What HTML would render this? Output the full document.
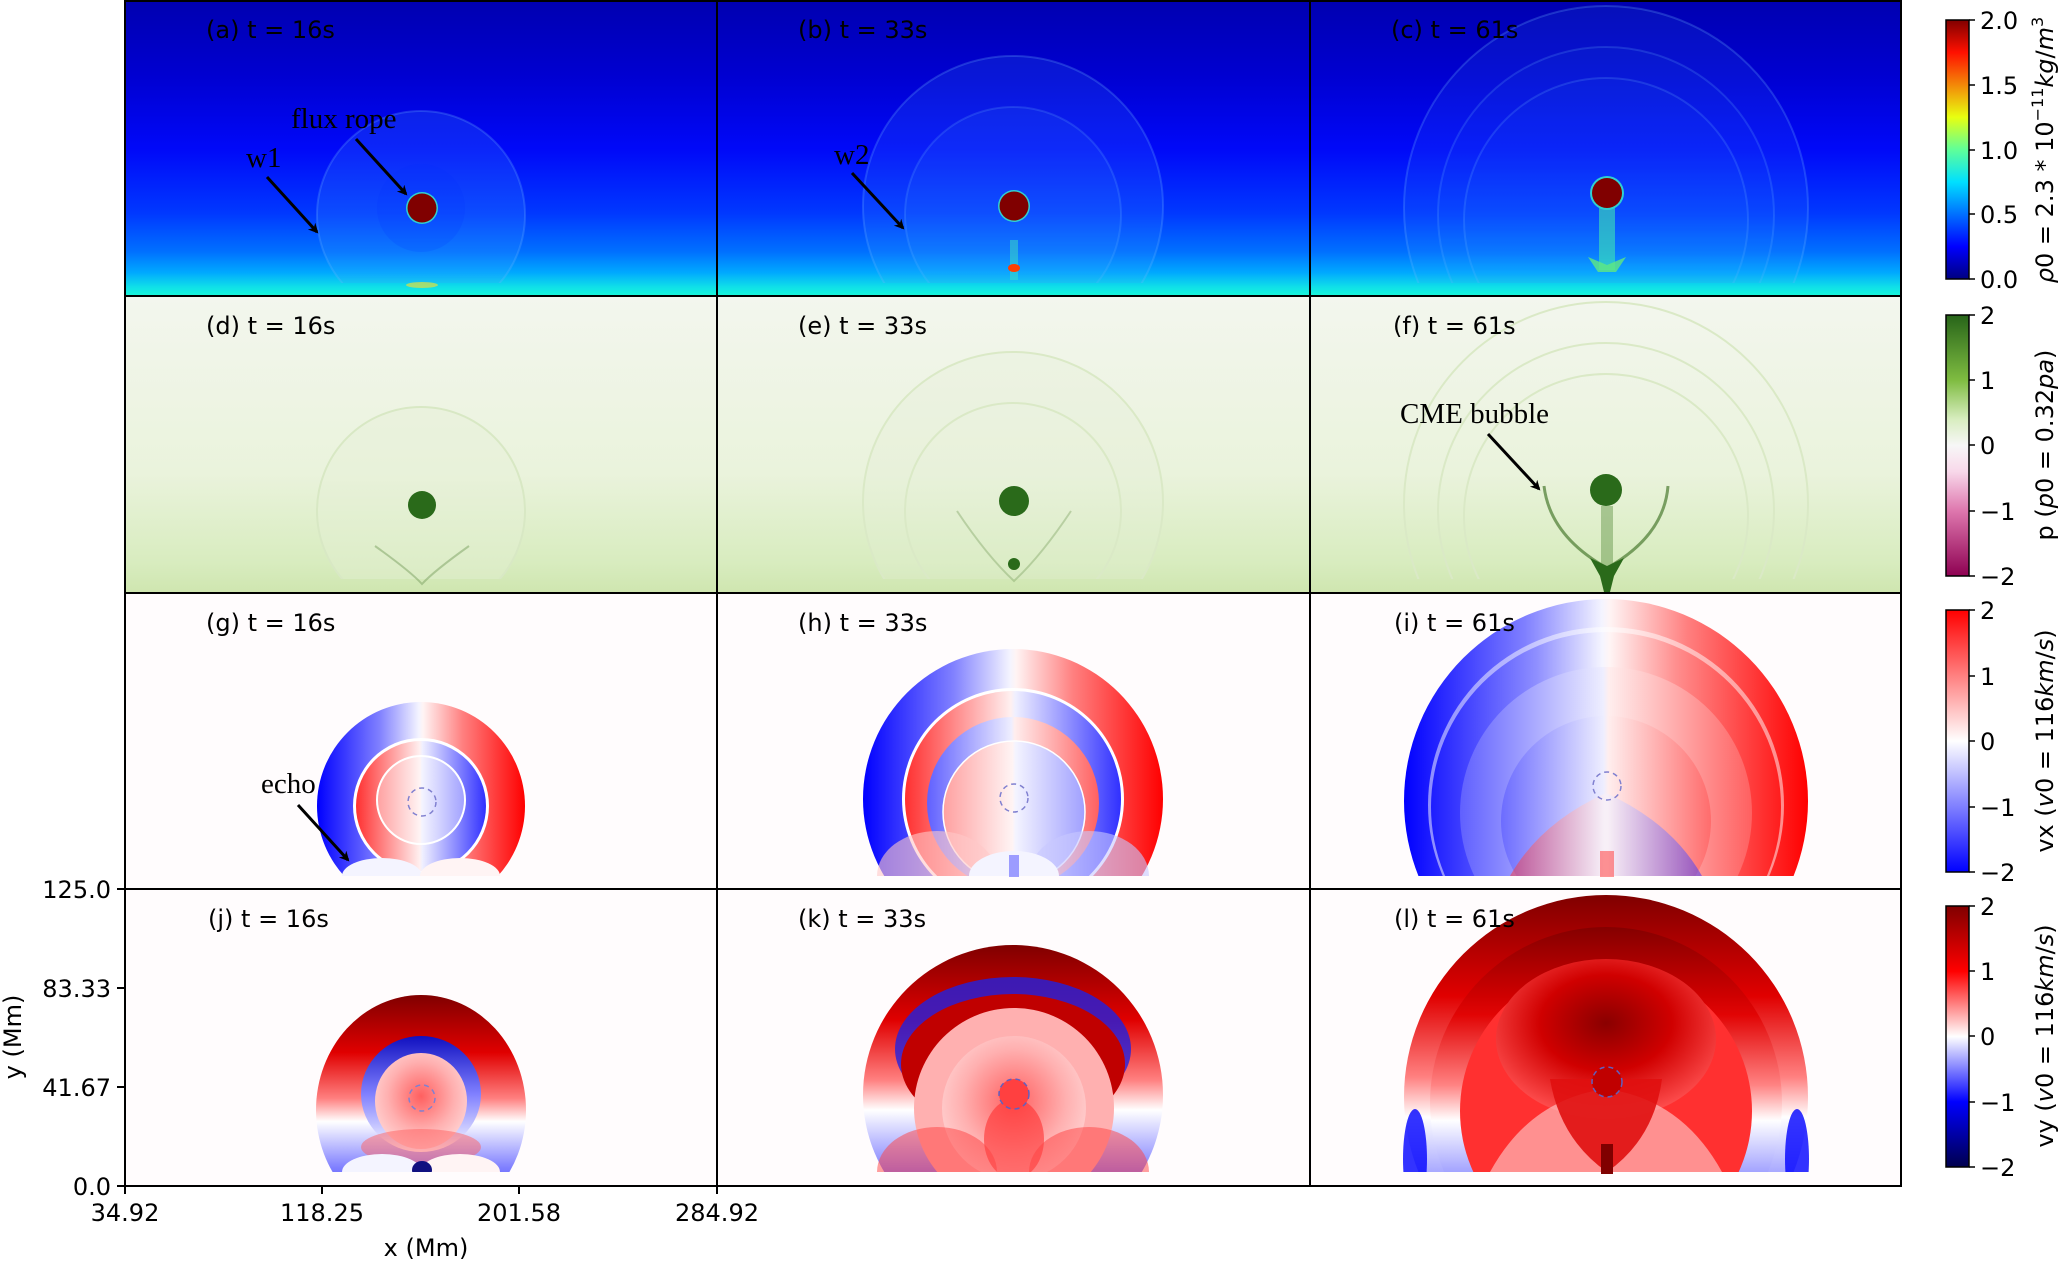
<!DOCTYPE html>
<html><head><meta charset="utf-8"><style>html,body{margin:0;padding:0;background:#fff}svg{display:block}</style></head>
<body>
<svg width="2066" height="1261" viewBox="0 0 2066 1261" xmlns="http://www.w3.org/2000/svg" font-family="DejaVu Sans, Liberation Sans, sans-serif">
<defs>
<linearGradient id="bgR" x1="0" y1="0" x2="0" y2="1">
<stop offset="0" stop-color="#0000b0"/><stop offset="0.25" stop-color="#0000d0"/><stop offset="0.5" stop-color="#0008f8"/><stop offset="0.72" stop-color="#0038ff"/><stop offset="0.85" stop-color="#0070ff"/><stop offset="0.92" stop-color="#00a8ff"/><stop offset="0.97" stop-color="#10e0e8"/><stop offset="1" stop-color="#18f8d8"/></linearGradient>
<linearGradient id="bgP" x1="0" y1="0" x2="0" y2="1">
<stop offset="0" stop-color="#f3f6ee"/><stop offset="0.6" stop-color="#eaf3dc"/><stop offset="0.9" stop-color="#d8ecbf"/><stop offset="1" stop-color="#cfe6b0"/></linearGradient>
<linearGradient id="hx" x1="0" y1="0" x2="1" y2="0">
<stop offset="0" stop-color="#0000ff"/><stop offset="0.3" stop-color="#8080ff"/><stop offset="0.49" stop-color="#f4f4ff"/><stop offset="0.51" stop-color="#fff4f4"/><stop offset="0.7" stop-color="#ff8080"/><stop offset="1" stop-color="#ff0000"/></linearGradient>
<linearGradient id="hxr" x1="0" y1="0" x2="1" y2="0">
<stop offset="0" stop-color="#ff3030"/><stop offset="0.49" stop-color="#fff0f0"/><stop offset="0.51" stop-color="#f0f0ff"/><stop offset="1" stop-color="#3030ff"/></linearGradient>
<linearGradient id="hxl" x1="0" y1="0" x2="1" y2="0">
<stop offset="0" stop-color="#6060ff"/><stop offset="0.49" stop-color="#eeeeff"/><stop offset="0.51" stop-color="#ffeeee"/><stop offset="1" stop-color="#ff6060"/></linearGradient>
<linearGradient id="hxlr" x1="0" y1="0" x2="1" y2="0">
<stop offset="0" stop-color="#ffa0a0"/><stop offset="0.49" stop-color="#fff4f4"/><stop offset="0.51" stop-color="#f4f4ff"/><stop offset="1" stop-color="#a0a0ff"/></linearGradient>
<linearGradient id="vy" x1="0" y1="0" x2="0" y2="1">
<stop offset="0" stop-color="#800000"/><stop offset="0.25" stop-color="#e00000"/><stop offset="0.45" stop-color="#ff8080"/><stop offset="0.55" stop-color="#ffffff"/><stop offset="0.75" stop-color="#8080ff"/><stop offset="1" stop-color="#2020ff"/></linearGradient>
<linearGradient id="vyb" x1="0" y1="0" x2="0" y2="1">
<stop offset="0" stop-color="#1010c0"/><stop offset="0.5" stop-color="#8080ff"/><stop offset="1" stop-color="#ffffff"/></linearGradient>
<radialGradient id="vyc" cx="0.5" cy="0.45" r="0.6">
<stop offset="0" stop-color="#ff6060"/><stop offset="0.6" stop-color="#ffb0b0"/><stop offset="1" stop-color="#ffd8d8"/></radialGradient>
<radialGradient id="vyd" cx="0.5" cy="0.4" r="0.6">
<stop offset="0" stop-color="#8a0000"/><stop offset="0.5" stop-color="#d00000"/><stop offset="1" stop-color="#ff5050"/></radialGradient>
<linearGradient id="cjet" x1="0" y1="1" x2="0" y2="0">
<stop offset="0" stop-color="#000080"/><stop offset="0.125" stop-color="#0000ff"/><stop offset="0.375" stop-color="#00e0ff"/><stop offset="0.5" stop-color="#60ff98"/><stop offset="0.625" stop-color="#e8ff10"/><stop offset="0.875" stop-color="#ff1000"/><stop offset="1" stop-color="#800000"/></linearGradient>
<linearGradient id="cpiy" x1="0" y1="0" x2="0" y2="1">
<stop offset="0" stop-color="#276419"/><stop offset="0.25" stop-color="#7fbc41"/><stop offset="0.4" stop-color="#d8edc0"/><stop offset="0.5" stop-color="#f7f7f7"/><stop offset="0.6" stop-color="#f8d8ea"/><stop offset="0.75" stop-color="#de77ae"/><stop offset="1" stop-color="#8e0152"/></linearGradient>
<linearGradient id="cbwr" x1="0" y1="0" x2="0" y2="1">
<stop offset="0" stop-color="#ff0000"/><stop offset="0.5" stop-color="#ffffff"/><stop offset="1" stop-color="#0000ff"/></linearGradient>
<linearGradient id="cseis" x1="0" y1="0" x2="0" y2="1">
<stop offset="0" stop-color="#800000"/><stop offset="0.25" stop-color="#ff0000"/><stop offset="0.5" stop-color="#ffffff"/><stop offset="0.75" stop-color="#0000ff"/><stop offset="1" stop-color="#00004d"/></linearGradient>
<clipPath id="pc"><rect x="0" y="0" width="592" height="296"/></clipPath>
<clipPath id="dc"><rect x="0" y="0" width="592" height="283"/></clipPath>
<marker id="ah" markerWidth="10" markerHeight="10" refX="8" refY="5" orient="auto" markerUnits="userSpaceOnUse" viewBox="0 0 10 10"><path d="M0,0 L10,5 L0,10 L3,5 z" fill="#000"/></marker>
</defs>

<!-- ROW 1: density -->
<g transform="translate(125,0)" clip-path="url(#pc)">
<rect width="592" height="296" fill="url(#bgR)"/>
<g clip-path="url(#dc)"><circle cx="296" cy="215" r="104" fill="#3a9aff" fill-opacity="0.2" stroke="#70b8ff" stroke-opacity="0.25" stroke-width="2"/>
<circle cx="296" cy="208" r="44" fill="#0030ff" fill-opacity="0.15"/></g>
<ellipse cx="297" cy="285" rx="16" ry="3" fill="#e0e040" opacity="0.7"/>
<circle cx="297" cy="208" r="16" fill="#30d0d0"/><circle cx="297" cy="208" r="14.5" fill="#800000"/>
</g>
<g transform="translate(717,0)" clip-path="url(#pc)">
<rect width="592" height="296" fill="url(#bgR)"/>
<g clip-path="url(#dc)"><circle cx="296" cy="206" r="150" fill="#3a9aff" fill-opacity="0.15" stroke="#70b8ff" stroke-opacity="0.25" stroke-width="2"/>
<circle cx="296" cy="215" r="108" fill="#3a9aff" fill-opacity="0.1" stroke="#70b8ff" stroke-opacity="0.2" stroke-width="2"/></g>
<rect x="293" y="240" width="8" height="40" fill="#40e0c0" opacity="0.5"/>
<ellipse cx="297" cy="268" rx="6" ry="4" fill="#ff4000"/>
<circle cx="297" cy="206" r="16" fill="#30d0d0"/><circle cx="297" cy="206" r="14.5" fill="#800000"/>
</g>
<g transform="translate(1310,0)" clip-path="url(#pc)">
<rect width="592" height="296" fill="url(#bgR)"/>
<g clip-path="url(#dc)"><circle cx="296" cy="208" r="202" fill="#3a9aff" fill-opacity="0.1" stroke="#70b8ff" stroke-opacity="0.25" stroke-width="2"/>
<circle cx="296" cy="215" r="168" fill="#3a9aff" fill-opacity="0.06" stroke="#70b8ff" stroke-opacity="0.2" stroke-width="2"/>
<circle cx="296" cy="220" r="142" fill="#3a9aff" fill-opacity="0.06" stroke="#70b8ff" stroke-opacity="0.2" stroke-width="2"/></g>
<rect x="289" y="205" width="16" height="65" fill="#40e8b0" opacity="0.6"/>
<path d="M278,257 L297,265 L316,257 L306,272 L288,272 Z" fill="#60e880" opacity="0.8"/>
<circle cx="297" cy="193" r="17" fill="#30d0d0"/><circle cx="297" cy="193" r="15" fill="#800000"/>
</g>

<!-- ROW 2: pressure -->
<g transform="translate(125,296)" clip-path="url(#pc)">
<rect width="592" height="296" fill="url(#bgP)"/>
<g clip-path="url(#dc)"><circle cx="296" cy="215" r="104" fill="#e6f0d6" fill-opacity="0.4" stroke="#d8e8c4" stroke-width="2"/></g>
<path d="M250,250 Q285,275 297,288 Q309,275 344,250" fill="none" stroke="#7aa060" stroke-width="2" opacity="0.5"/>
<circle cx="297" cy="209" r="14" fill="#2a6a1a"/>
</g>
<g transform="translate(717,296)" clip-path="url(#pc)">
<rect width="592" height="296" fill="url(#bgP)"/>
<g clip-path="url(#dc)"><circle cx="296" cy="206" r="150" fill="#e6f0d6" fill-opacity="0.3" stroke="#dae9c6" stroke-width="2"/>
<circle cx="296" cy="215" r="108" fill="none" stroke="#dae9c6" stroke-width="2"/></g>
<path d="M240,215 Q270,260 297,285 Q324,260 354,215" fill="none" stroke="#7aa060" stroke-width="2" opacity="0.4"/>
<circle cx="297" cy="268" r="6" fill="#2a6a1a"/>
<circle cx="297" cy="205" r="15" fill="#2a6a1a"/>
</g>
<g transform="translate(1310,296)" clip-path="url(#pc)">
<rect width="592" height="296" fill="url(#bgP)"/>
<g clip-path="url(#dc)"><circle cx="296" cy="208" r="202" fill="none" stroke="#dae9c6" stroke-width="2"/>
<circle cx="296" cy="215" r="168" fill="none" stroke="#dae9c6" stroke-width="2"/>
<circle cx="296" cy="220" r="142" fill="none" stroke="#dae9c6" stroke-width="2"/></g>
<path d="M234,190 Q240,240 297,272 Q354,240 358,190" fill="none" stroke="#4a7a30" stroke-width="3" opacity="0.7"/>
<rect x="291" y="210" width="12" height="60" fill="#6a9a50" opacity="0.5"/>
<path d="M280,262 L297,270 L314,262 L304,280 L300,296 L294,296 L290,280 Z" fill="#2a6a1a"/>
<circle cx="296" cy="194" r="16" fill="#2a6a1a"/>
</g>

<!-- ROW 3: vx -->
<g transform="translate(125,593)" clip-path="url(#pc)">
<rect width="592" height="296" fill="#fffcfd"/>
<g clip-path="url(#dc)">
<circle cx="296" cy="213" r="104" fill="url(#hx)"/>
<circle cx="296" cy="213" r="68" fill="#fff"/>
<circle cx="296" cy="213" r="65" fill="url(#hxr)"/>
<circle cx="296" cy="207" r="44" fill="url(#hxlr)" stroke="#fff" stroke-width="2"/>
<ellipse cx="257" cy="283" rx="40" ry="18" fill="#f4f4ff"/>
<ellipse cx="335" cy="283" rx="40" ry="18" fill="#fff4f4"/>
</g>
<circle cx="297" cy="209" r="14" fill="none" stroke="#8080d0" stroke-width="1.5" stroke-dasharray="5 4"/>
</g>
<g transform="translate(717,593)" clip-path="url(#pc)">
<rect width="592" height="296" fill="#fffcfd"/>
<g clip-path="url(#dc)">
<circle cx="296" cy="206" r="150" fill="url(#hx)"/>
<circle cx="296" cy="206" r="111" fill="#fff"/>
<circle cx="296" cy="206" r="108" fill="url(#hxr)"/>
<circle cx="296" cy="210" r="86" fill="url(#hxl)"/>
<circle cx="297" cy="219" r="71" fill="url(#hxlr)" stroke="#fff" stroke-width="1.5"/>
<ellipse cx="220" cy="283" rx="60" ry="45" fill="#ffc8c8" opacity="0.6"/>
<ellipse cx="372" cy="283" rx="60" ry="45" fill="#c8c8ff" opacity="0.6"/>
<ellipse cx="297" cy="283" rx="45" ry="25" fill="#f4f4ff"/>
</g>
<circle cx="297" cy="205" r="14" fill="none" stroke="#8080d0" stroke-width="1.5" stroke-dasharray="5 4"/>
<rect x="292" y="262" width="10" height="22" fill="#6060ff" opacity="0.6"/>
</g>
<g transform="translate(1310,593)" clip-path="url(#pc)">
<rect width="592" height="296" fill="#fffcfd"/>
<g clip-path="url(#dc)">
<circle cx="296" cy="208" r="202" fill="url(#hx)"/>
<circle cx="296" cy="212" r="178" fill="#fff" opacity="0.5"/>
<circle cx="296" cy="214" r="175" fill="url(#hx)" opacity="0.8"/>
<circle cx="296" cy="220" r="146" fill="url(#hxl)"/>
<circle cx="296" cy="228" r="105" fill="url(#hxl)" opacity="0.7"/>
<path d="M200,283 Q230,230 296,200 Q362,230 392,283 Z" fill="url(#hxr)" opacity="0.5"/>
</g>
<circle cx="297" cy="193" r="14" fill="none" stroke="#8080d0" stroke-width="1.5" stroke-dasharray="5 4"/>
<rect x="290" y="258" width="14" height="26" fill="#ff5050" opacity="0.6"/>
</g>

<!-- ROW 4: vy -->
<g transform="translate(125,889)" clip-path="url(#pc)">
<rect width="592" height="296" fill="#fffcfd"/>
<g clip-path="url(#dc)">
<ellipse cx="296" cy="221" rx="105" ry="115" fill="url(#vy)"/>
<ellipse cx="296" cy="205" rx="60" ry="58" fill="url(#vyb)"/>
<ellipse cx="296" cy="212" rx="46" ry="48" fill="url(#vyc)"/>
<ellipse cx="296" cy="258" rx="60" ry="18" fill="#ff6060" opacity="0.5"/>
<ellipse cx="257" cy="283" rx="40" ry="18" fill="#f4f4ff"/>
<ellipse cx="335" cy="283" rx="40" ry="18" fill="#fff4f4"/>
<ellipse cx="297" cy="281" rx="10" ry="9" fill="#101080"/>
</g>
<circle cx="297" cy="209" r="13" fill="none" stroke="#8080d0" stroke-width="1.5" stroke-dasharray="5 4"/>
</g>
<g transform="translate(717,889)" clip-path="url(#pc)">
<rect width="592" height="296" fill="#fffcfd"/>
<g clip-path="url(#dc)">
<circle cx="296" cy="206" r="150" fill="url(#vy)"/>
<ellipse cx="296" cy="160" rx="118" ry="72" fill="#2020e0" opacity="0.8"/>
<ellipse cx="296" cy="175" rx="112" ry="70" fill="#c00000"/>
<circle cx="297" cy="219" r="100" fill="#ffb0b0"/>
<circle cx="297" cy="219" r="72" fill="url(#vyc)"/>
<ellipse cx="297" cy="250" rx="30" ry="40" fill="#ff3030" opacity="0.6"/>
<ellipse cx="220" cy="283" rx="60" ry="45" fill="#ff4040" opacity="0.5"/>
<ellipse cx="372" cy="283" rx="60" ry="45" fill="#ff4040" opacity="0.5"/>
</g>
<circle cx="297" cy="205" r="15" fill="#ff4040" stroke="#6060c0" stroke-width="1.5" stroke-dasharray="5 4"/>
</g>
<g transform="translate(1310,889)" clip-path="url(#pc)">
<rect width="592" height="296" fill="#fffcfd"/>
<g clip-path="url(#dc)">
<circle cx="296" cy="208" r="202" fill="url(#vy)"/>
<circle cx="296" cy="214" r="176" fill="url(#vy)" opacity="0.85"/>
<circle cx="296" cy="222" r="146" fill="#ff3030"/>
<ellipse cx="296" cy="150" rx="110" ry="80" fill="url(#vyd)"/>
<path d="M180,283 Q220,210 296,200 Q372,210 412,283 Z" fill="#ffd0d0" opacity="0.6"/>
<path d="M240,190 Q250,250 297,283 Q344,250 352,190 Z" fill="#e01010" opacity="0.9"/>
<ellipse cx="105" cy="270" rx="12" ry="50" fill="#0000ff" opacity="0.8"/>
<ellipse cx="487" cy="270" rx="12" ry="50" fill="#0000ff" opacity="0.8"/>
</g>
<circle cx="297" cy="193" r="15" fill="#c00000" stroke="#6060c0" stroke-width="1.5" stroke-dasharray="5 4"/>
<rect x="291" y="255" width="12" height="30" fill="#800000"/>
</g>

<!-- grid lines -->
<g stroke="#000" stroke-width="2" fill="none">
<rect x="125" y="1" width="1776" height="1185"/>
<line x1="717" y1="0" x2="717" y2="1186"/><line x1="1310" y1="0" x2="1310" y2="1186"/>
<line x1="125" y1="296" x2="1901" y2="296"/><line x1="125" y1="593" x2="1901" y2="593"/><line x1="125" y1="889" x2="1901" y2="889"/>
</g>

<!-- panel labels -->
<g font-size="24" fill="#000">
<text x="206" y="38">(a) t = 16s</text><text x="798" y="38">(b) t = 33s</text><text x="1391" y="38">(c) t = 61s</text>
<text x="206" y="334">(d) t = 16s</text><text x="798" y="334">(e) t = 33s</text><text x="1393" y="334">(f) t = 61s</text>
<text x="206" y="631">(g) t = 16s</text><text x="798" y="631">(h) t = 33s</text><text x="1394" y="631">(i) t = 61s</text>
<text x="208" y="927">(j) t = 16s</text><text x="798" y="927">(k) t = 33s</text><text x="1394" y="927">(l) t = 61s</text>
</g>

<!-- annotations -->
<g font-family="Liberation Serif, serif" font-size="29" fill="#000">
<text x="291" y="128">flux rope</text>
<text x="246" y="167">w1</text>
<text x="834" y="164">w2</text>
<text x="1400" y="423">CME bubble</text>
<text x="261" y="793">echo</text>
</g>
<g stroke="#000" stroke-width="3" marker-end="url(#ah)">
<line x1="356" y1="139" x2="406" y2="194"/>
<line x1="267" y1="177" x2="317" y2="232"/>
<line x1="852" y1="173" x2="903" y2="228"/>
<line x1="1488" y1="434" x2="1539" y2="489"/>
<line x1="298" y1="805" x2="348" y2="860"/>
</g>

<!-- axes ticks -->
<g stroke="#000" stroke-width="2">
<line x1="117" y1="889" x2="125" y2="889"/><line x1="117" y1="988" x2="125" y2="988"/><line x1="117" y1="1087" x2="125" y2="1087"/><line x1="117" y1="1186" x2="125" y2="1186"/>
<line x1="125" y1="1186" x2="125" y2="1194"/><line x1="322" y1="1186" x2="322" y2="1194"/><line x1="519" y1="1186" x2="519" y2="1194"/><line x1="717" y1="1186" x2="717" y2="1194"/>
</g>
<g font-size="24" fill="#000">
<text x="111" y="898" text-anchor="end">125.0</text>
<text x="111" y="997" text-anchor="end">83.33</text>
<text x="111" y="1096" text-anchor="end">41.67</text>
<text x="111" y="1195" text-anchor="end">0.0</text>
<text x="125" y="1221" text-anchor="middle">34.92</text>
<text x="322" y="1221" text-anchor="middle">118.25</text>
<text x="519" y="1221" text-anchor="middle">201.58</text>
<text x="717" y="1221" text-anchor="middle">284.92</text>
<text x="426" y="1256" text-anchor="middle">x (Mm)</text>
<text transform="translate(21,1037) rotate(-90)" text-anchor="middle">y (Mm)</text>
</g>

<!-- colorbars -->
<g stroke="#000" stroke-width="1.5">
<rect x="1946" y="20" width="23" height="259" fill="url(#cjet)"/>
<rect x="1946" y="315" width="23" height="261" fill="url(#cpiy)"/>
<rect x="1946" y="610" width="23" height="262" fill="url(#cbwr)"/>
<rect x="1946" y="906" width="23" height="261" fill="url(#cseis)"/>
<path d="M1969,20h6M1969,85h6M1969,150h6M1969,214h6M1969,279h6 M1969,315h6M1969,380h6M1969,445h6M1969,511h6M1969,576h6 M1969,610h6M1969,676h6M1969,741h6M1969,807h6M1969,872h6 M1969,906h6M1969,971h6M1969,1036h6M1969,1102h6M1969,1167h6"/>
</g>
<g font-size="24" fill="#000">
<text x="1980" y="29">2.0</text><text x="1980" y="94">1.5</text><text x="1980" y="159">1.0</text><text x="1980" y="223">0.5</text><text x="1980" y="288">0.0</text>
<text x="1980" y="324">2</text><text x="1980" y="389">1</text><text x="1980" y="454">0</text><text x="1980" y="520">−1</text><text x="1980" y="585">−2</text>
<text x="1980" y="619">2</text><text x="1980" y="685">1</text><text x="1980" y="750">0</text><text x="1980" y="816">−1</text><text x="1980" y="881">−2</text>
<text x="1980" y="915">2</text><text x="1980" y="980">1</text><text x="1980" y="1045">0</text><text x="1980" y="1111">−1</text><text x="1980" y="1176">−2</text>
<text transform="translate(2053,150) rotate(-90)" text-anchor="middle"><tspan font-style="italic">ρ</tspan>0 = 2.3 * 10<tspan font-size="16" dy="-10">−11</tspan><tspan dy="10" font-style="italic">kg</tspan>/<tspan font-style="italic">m</tspan><tspan font-size="16" dy="-10">3</tspan></text>
<text transform="translate(2053,445) rotate(-90)" text-anchor="middle">p (<tspan font-style="italic">p</tspan>0 = 0.32<tspan font-style="italic">pa</tspan>)</text>
<text transform="translate(2053,741) rotate(-90)" text-anchor="middle">vx (<tspan font-style="italic">v</tspan>0 = 116<tspan font-style="italic">km</tspan>/<tspan font-style="italic">s</tspan>)</text>
<text transform="translate(2053,1036) rotate(-90)" text-anchor="middle">vy (<tspan font-style="italic">v</tspan>0 = 116<tspan font-style="italic">km</tspan>/<tspan font-style="italic">s</tspan>)</text>
</g>
</svg>
</body></html>
